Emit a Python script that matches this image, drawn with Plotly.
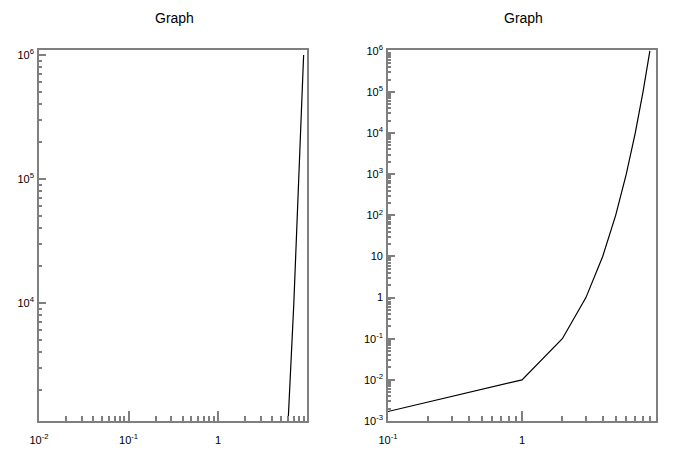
import plotly.graph_objects as go

# Data
x_vals = [0.1, 1, 2, 3, 4, 5, 6, 7, 8, 9]
y_vals = [1.7e-3, 1e-2, 1e-1, 1, 10, 100, 1000, 1e4, 1e5, 1e6]

title_text = "Graph"

left_x_major = [0.01, 0.1, 1]
left_x_labels = ["10<sup>-2</sup>", "10<sup>-1</sup>", "1"]
left_y_major = [1e4, 1e5, 1e6]
left_y_labels = ["10<sup>4</sup>", "10<sup>5</sup>", "10<sup>6</sup>"]

right_x_major = [0.1, 1]
right_x_labels = ["10<sup>-1</sup>", "1"]
right_y_major = [1e-3, 1e-2, 1e-1, 1, 10, 1e2, 1e3, 1e4, 1e5, 1e6]
right_y_labels = ["10<sup>-3</sup>", "10<sup>-2</sup>", "10<sup>-1</sup>", "1", "10",
                  "10<sup>2</sup>", "10<sup>3</sup>", "10<sup>4</sup>", "10<sup>5</sup>", "10<sup>6</sup>"]


def minors(decades):
    out = []
    for d in decades:
        for m in range(2, 10):
            out.append(m * 10.0 ** d)
    return out


OFF = 8  # default page body margin
W, H = 698 - OFF, 475 - OFF
AX = "#7f7f7f"
FAM = "Liberation Sans, Arial, Helvetica, sans-serif"
FONT = dict(family=FAM, size=11, color="black")


def px(xp):
    return (xp - OFF) / W


def py(yp):
    return 1 - (yp - OFF) / H


fig = go.Figure()
fig.add_trace(go.Scatter(x=x_vals, y=y_vals, mode="lines", line=dict(color="black", width=1.2),
                         xaxis="x", yaxis="y", showlegend=False, cliponaxis=True))
fig.add_trace(go.Scatter(x=x_vals, y=y_vals, mode="lines", line=dict(color="black", width=1.2),
                         xaxis="x2", yaxis="y2", showlegend=False, cliponaxis=True))


def xaxis(domain, rng, major, labels, minor_vals, anchor):
    return dict(type="log", domain=domain, range=rng, anchor=anchor, automargin=False,
                showgrid=False, zeroline=False, showline=True, linecolor=AX, linewidth=1.6,
                mirror=True, ticks="inside", ticklen=10, tickwidth=1.5, tickcolor=AX,
                tickmode="array", tickvals=major, ticktext=labels, tickfont=FONT,
                ticklabelstandoff=8,
                minor=dict(tickmode="array", tickvals=minor_vals, ticks="inside", ticklen=5,
                           tickwidth=1.5, tickcolor=AX, showgrid=False))


def yaxis(domain, rng, major, labels, minor_vals, anchor):
    return dict(type="log", domain=domain, range=rng, anchor=anchor, automargin=False,
                showgrid=False, zeroline=False, showline=True, linecolor=AX, linewidth=1.6,
                mirror=True, ticks="inside", ticklen=7, tickwidth=1.5, tickcolor=AX,
                tickmode="array", tickvals=major, ticktext=labels, tickfont=FONT,
                ticklabelstandoff=1,
                minor=dict(tickmode="array", tickvals=minor_vals, ticks="inside", ticklen=3.5,
                           tickwidth=1.5, tickcolor=AX, showgrid=False))


ydom = [py(421), py(50)]
fig.update_layout(
    template="none",
    width=W, height=H, margin=dict(l=0, r=0, t=0, b=0), autosize=False,
    paper_bgcolor="white", plot_bgcolor="white",
    font=dict(family=FAM, color="black"),
    xaxis=xaxis([px(39), px(307)], [-2, 0.992], left_x_major, left_x_labels, minors([-2, -1, 0]), "y"),
    yaxis=yaxis(ydom, [3.048, 6.04], left_y_major, left_y_labels, minors([3, 4, 5]), "x"),
    xaxis2=xaxis([px(388), px(656)], [-1, 1.0], right_x_major, right_x_labels, minors([-1, 0]), "y2"),
    yaxis2=yaxis(ydom, [-3.0, 6.02], right_y_major, right_y_labels, minors(range(-3, 6)), "x2"),
    annotations=[
        dict(text=title_text, x=px(174), y=py(18), xref="paper", yref="paper",
             showarrow=False, xanchor="center", yanchor="middle",
             font=dict(family=FAM, size=14, color="black")),
        dict(text=title_text, x=px(523), y=py(18), xref="paper", yref="paper",
             showarrow=False, xanchor="center", yanchor="middle",
             font=dict(family=FAM, size=14, color="black")),
    ],
)

fig.write_html("out.html")
